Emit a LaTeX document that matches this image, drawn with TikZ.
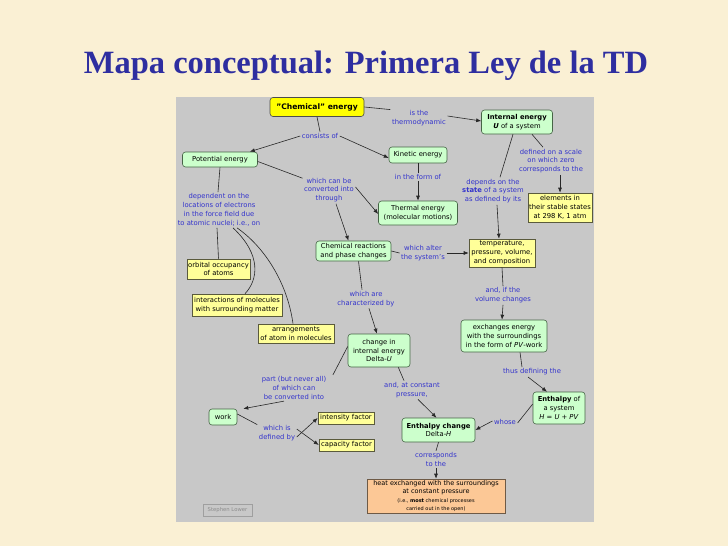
\documentclass[tikz,border=0pt]{standalone}
\usepackage{fontspec}
\setmainfont{DejaVu Sans}
\newfontfamily\titlefont{Liberation Serif}
\usetikzlibrary{arrows.meta,calc}
\definecolor{bgcream}{RGB}{250,240,212}
\definecolor{panelgray}{RGB}{200,200,200}
\definecolor{titleblue}{RGB}{46,46,160}
\definecolor{labblue}{RGB}{51,51,204}
\definecolor{gfill}{RGB}{204,255,204}
\definecolor{gdraw}{RGB}{70,100,70}
\definecolor{yfill}{RGB}{255,255,153}
\definecolor{ydraw}{RGB}{90,90,60}
\definecolor{ybright}{RGB}{255,255,0}
\definecolor{ofill}{RGB}{252,200,150}
\definecolor{odraw}{RGB}{110,90,70}
\definecolor{lineg}{RGB}{40,40,40}
\tikzset{
  txt/.style={font=\fontsize{6.8}{8.8}\selectfont, align=center, inner sep=1pt},
  gbox/.style={txt, draw=gdraw, fill=gfill, rounded corners=3pt, line width=0.6pt},
  ybox/.style={txt, draw=ydraw, fill=yfill, line width=0.6pt},
  obox/.style={txt, draw=odraw, fill=ofill, line width=0.6pt},
  lab/.style={txt, text=labblue, inner sep=1.5pt},
  conn/.style={draw=lineg, line width=0.6pt},
  arr/.style={conn, -{Latex[length=5pt,width=4pt]}},
}
\begin{document}
\begin{tikzpicture}[x=1pt,y=-1pt]
\useasboundingbox (0,0) rectangle (728,546);
\fill[bgcream] (0,0) rectangle (728,546);
\fill[panelgray] (176,97) rectangle (594,522);
\node[font=\titlefont\bfseries\fontsize{32.5}{36}\selectfont, text=titleblue] (title) at (366,66) {Mapa conceptual: Primera Ley de la TD};

% boxes
\node[gbox, draw=black!70, fill=ybright, rounded corners=3pt, minimum width=94pt, minimum height=19pt, font=\bfseries\fontsize{7.6}{9}\selectfont] (ce) at (317,107) {\symbol{34}Chemical\symbol{34} energy};
\node[gbox, minimum width=75pt, minimum height=15pt] (pe) at (220,159.5) {Potential energy};
\node[gbox, minimum width=58pt, minimum height=16pt] (ke) at (418,155) {Kinetic energy};
\node[gbox, minimum width=71pt, minimum height=24pt] (ie) at (517,122) {\textbf{Internal energy}\\\textbf{\textit{U}} of a system};
\node[ybox, minimum width=64pt, minimum height=29pt] (el) at (560,207.5) {elements in\\their stable states\\at 298 K, 1 atm};
\node[gbox, minimum width=79pt, minimum height=24pt] (te) at (418,213) {Thermal energy\\(molecular motions)};
\node[gbox, minimum width=75pt, minimum height=20pt] (cr) at (353.5,251) {Chemical reactions\\and phase changes};
\node[ybox, minimum width=66pt, minimum height=28pt] (tp) at (502,253) {temperature,\\pressure, volume,\\and composition};
\node[gbox, minimum width=86pt, minimum height=32pt] (ex) at (504,336) {exchanges energy\\with the surroundings\\in the form of \textit{PV}-work};
\node[gbox, minimum width=52pt, minimum height=32pt] (en) at (559,408) {\textbf{Enthalpy} of\\a system\\\textit{H} = \textit{U} + \textit{PV}};
\node[gbox, minimum width=73pt, minimum height=24pt] (ec) at (438.5,430) {\textbf{Enthalpy change}\\Delta-\textit{H}};
\node[obox, minimum width=138pt, minimum height=34pt, font=\fontsize{6.5}{8.4}\selectfont] (heat) at (436,496) {heat exchanged with the surroundings\\at constant pressure\\{\fontsize{5}{7}\selectfont (i.e., \textbf{most} chemical processes}\\{\fontsize{5}{6}\selectfont carried out in the open)}};
\node[gbox, minimum width=62pt, minimum height=33pt] (ci) at (379,350.5) {change in\\internal energy\\Delta-\textit{U}};
\node[ybox, minimum width=76pt, minimum height=19pt] (ar) at (296,333.5) {arrangements\\of atom in molecules};
\node[ybox, minimum width=90pt, minimum height=22pt] (im) at (237,305) {interactions of molecules\\with surrounding matter};
\node[ybox, minimum width=63pt, minimum height=20pt] (oo) at (218.5,269) {orbital occupancy\\of atoms};
\node[gbox, minimum width=28pt, minimum height=16pt] (wk) at (223,417) {work};
\node[ybox, minimum width=56pt, minimum height=12pt] (if) at (346,418) {intensity factor};
\node[ybox, minimum width=55pt, minimum height=12pt] (cf) at (346.5,445) {capacity factor};
\node[txt, draw=gray!75, text=gray!90, minimum width=49pt, minimum height=12pt, font=\fontsize{5.3}{6}\selectfont] (sl) at (227.5,510) {Stephen Lower};

% labels
\node[lab] (l1) at (320,136) {consists of};
\node[lab] (l2) at (419,118) {is the\\thermodynamic};
\node[lab] (l3) at (551,161) {defined on a scale\\on which zero\\corresponds to the};
\node[lab] (l4) at (493,191) {depends on the\\\textbf{state} of a system\\as defined by its};
\node[lab] (l5) at (418,177) {in the form of};
\node[lab] (l6) at (329,190) {which can be\\converted into\\through};
\node[lab] (l7) at (219,210) {dependent on the\\locations of electrons\\in the force field due\\to atomic nuclei; i.e., on};
\node[lab] (l8) at (423,253) {which alter\\the system's};
\node[lab] (l9) at (366,299) {which are\\characterized by};
\node[lab] (l10) at (503,295.5) {and, if the\\volume changes};
\node[lab] (l11) at (532,372) {thus defining the};
\node[lab] (l12) at (505,422) {whose};
\node[lab] (l13) at (412,390) {and, at constant\\pressure,};
\node[lab] (l14) at (436,459.5) {corresponds\\to the};
\node[lab] (l15) at (294,388) {part (but never all)\\of which can\\be converted into};
\node[lab] (l16) at (277,433) {which is\\defined by};

% connectors
\draw[conn] (ce.south) -- (l1.north);
\draw[arr] (l1.west) -- ([xshift=-8pt]pe.north east);
\draw[arr] (l1.east) -- ([yshift=-3pt]ke.west);
\draw[conn] (ce.east) -- ([yshift=-1pt]l2.north west);
\draw[arr] ([yshift=2pt]l2.east) -- ([yshift=1pt]ie.west);
\draw[conn] ([xshift=-4pt]ie.south) -- ([xshift=7pt]l4.north);
\draw[arr] ([xshift=4pt]l4.south) -- ([xshift=-3pt]tp.north);
\draw[conn] ([xshift=15pt]ie.south) -- ([xshift=-8pt]l3.north);
\draw[arr] ([xshift=9pt]l3.south) -- (el.north);
\draw[conn] (ke.south) -- (l5.north);
\draw[arr] (l5.south) -- (te.north);
\draw[conn] ([yshift=-2pt]pe.east) -- ([yshift=-2pt]l6.north west);
\draw[arr] ([yshift=3pt]l6.east) -- ([yshift=-1pt]te.west);
\draw[arr] ([xshift=7pt]l6.south) -- ([xshift=-5pt]cr.north);
\draw[conn] (pe.south) -- ([xshift=-1pt]l7.north);
\draw[conn] ([xshift=-2pt]l7.south) -- (oo.north);
\draw[conn] ([xshift=14pt]l7.south) .. controls (262,255) and (258,280) .. ([xshift=8pt]im.north);
\draw[conn] ([xshift=18pt]l7.south) .. controls (262,245) and (287,280) .. ([xshift=-3pt]ar.north);
\draw[conn] (cr.east) -- (l8.west);
\draw[arr] (l8.east) -- (tp.west);
\draw[conn] ([xshift=5pt]cr.south) -- ([xshift=-4pt]l9.north);
\draw[arr] ([xshift=3pt]l9.south) -- ([xshift=-2pt]ci.north);
\draw[conn] (tp.south) -- (l10.north);
\draw[arr] (l10.south) -- ([xshift=-2pt]ex.north);
\draw[conn] ([xshift=16pt]ex.south) -- ([xshift=-10pt]l11.north);
\draw[arr] ([xshift=-4pt]l11.south) -- ([xshift=-12pt]en.north);
\draw[conn] ([yshift=4pt]en.west) -- ([yshift=-1pt]l12.east);
\draw[arr] ([yshift=1pt]l12.west) -- (ec.east);
\draw[conn] ([xshift=-12pt]ci.south east) -- ([xshift=-8pt]l13.north);
\draw[arr] ([xshift=6pt]l13.south) -- ([xshift=-2pt]ec.north);
\draw[conn] (ec.south) -- (l14.north);
\draw[arr] (l14.south) -- (heat.north);
\draw[conn] ([yshift=4pt]ci.west) -- ([xshift=5pt]l15.north east);
\draw[arr] ([xshift=-10pt]l15.south) -- ([xshift=6pt]wk.north east);
\draw[conn] ([yshift=3pt]wk.east) -- ([yshift=-1pt]l16.north west);
\draw[arr] ([yshift=-4pt]l16.east) -- (if.west);
\draw[arr] ([yshift=4pt]l16.east) -- (cf.west);
\end{tikzpicture}
\end{document}
